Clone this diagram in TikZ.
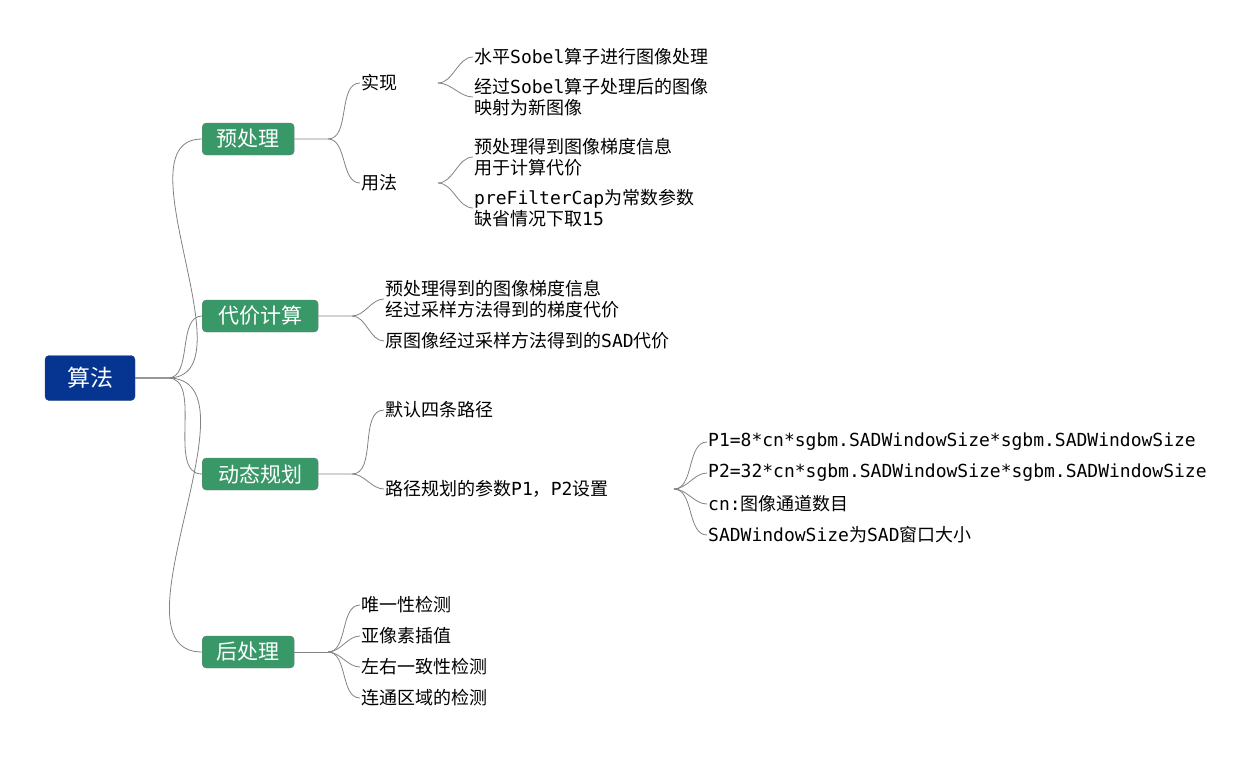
\documentclass[tikz,border=0pt]{standalone}
\usepackage{fontspec}
\setmainfont{Noto Sans CJK SC}
\newfontfamily\mono{DejaVu Sans Mono}
\begin{document}
\begin{tikzpicture}[x=1pt,y=-1pt,
  root/.style={fill={rgb,255:red,6;green,52;blue,145},draw={rgb,255:red,60;green,80;blue,120},rounded corners=4pt,text=white,font=\fontsize{23}{23}\selectfont,minimum width=90pt,minimum height=45pt,inner sep=0pt},
  gbox/.style={fill={rgb,255:red,56;green,152;blue,104},draw={rgb,255:red,110;green,130;blue,120},rounded corners=4pt,text=white,font=\fontsize{21}{21}\selectfont,minimum height=32pt,inner xsep=8pt,inner ysep=0pt,anchor=west},
  leaf/.style={anchor=west,inner sep=1pt,align=left,font=\fontsize{18}{21}\selectfont},
  conn/.style={draw={rgb,255:red,130;green,130;blue,130},line width=0.8pt},
  c/.style={out=0,in=180,looseness=0.9}]
\useasboundingbox (0,0) rectangle (1243,756);
\node[root] (r) at (90,378) {算法};
\node[gbox,minimum width=92pt] (a) at (202,139) {预处理};
\node[gbox,minimum width=116pt] (b) at (202,316) {代价计算};
\node[gbox,minimum width=116pt] (d) at (202,474) {动态规划};
\node[gbox,minimum width=92pt] (e) at (202,652) {后处理};
\coordinate (jr) at (168,378);
\foreach \n in {a,b,d,e}{\draw[conn] (r.east) -- (jr) to[c] (\n.west);}
% 预处理
\node[leaf] (a1) at (360,83) {实现};
\node[leaf] (a2) at (360,183) {用法};
\coordinate (ja) at (328,139);
\draw[conn] (a.east) -- (ja) to[c] (a1.west);
\draw[conn] (ja) to[c] (a2.west);
\node[leaf] (a11) at (473,57) {水平{\mono Sobel}算子进行图像处理};
\node[leaf] (a12) at (473,97) {经过{\mono Sobel}算子处理后的图像\\映射为新图像};
\node[leaf] (a21) at (473,157) {预处理得到图像梯度信息\\用于计算代价};
\node[leaf] (a22) at (473,208) {{\mono preFilterCap}为常数参数\\缺省情况下取{\mono 15}};
\coordinate (ja1) at (438,83);
\coordinate (ja2) at (438,183);
\draw[conn] (ja1) to[c] (a11.west); \draw[conn] (ja1) to[c] (a12.west);
\draw[conn] (ja2) to[c] (a21.west); \draw[conn] (ja2) to[c] (a22.west);
% 代价计算
\node[leaf] (b1) at (384,299) {预处理得到的图像梯度信息\\经过采样方法得到的梯度代价};
\node[leaf] (b2) at (384,341) {原图像经过采样方法得到的{\mono SAD}代价};
\coordinate (jb) at (352,316);
\draw[conn] (b.east) -- (jb) to[c] (b1.west);
\draw[conn] (jb) to[c] (b2.west);
% 动态规划
\node[leaf] (d1) at (384,410) {默认四条路径};
\node[leaf] (d2) at (384,489) {路径规划的参数{\mono P1}，{\mono P2}设置};
\coordinate (jd) at (352,474);
\draw[conn] (d.east) -- (jd) to[c] (d1.west);
\draw[conn] (jd) to[c] (d2.west);
\node[leaf] (d21) at (707,442) {\mono P1=8*cn*sgbm.SADWindowSize*sgbm.SADWindowSize};
\node[leaf] (d22) at (707,473) {\mono P2=32*cn*sgbm.SADWindowSize*sgbm.SADWindowSize};
\node[leaf] (d23) at (707,504) {{\mono cn:}图像通道数目};
\node[leaf] (d24) at (707,535) {{\mono SADWindowSize}为{\mono SAD}窗口大小};
\coordinate (jd2) at (674,489);
\foreach \n in {d21,d22,d23,d24}{\draw[conn] (jd2) to[c] (\n.west);}
% 后处理
\node[leaf] (e1) at (360,605) {唯一性检测};
\node[leaf] (e2) at (360,636) {亚像素插值};
\node[leaf] (e3) at (360,667) {左右一致性检测};
\node[leaf] (e4) at (360,698) {连通区域的检测};
\coordinate (je) at (328,652);
\draw[conn] (e.east) -- (je);
\foreach \n in {e1,e2,e3,e4}{\draw[conn] (je) to[c] (\n.west);}
\end{tikzpicture}
\end{document}
